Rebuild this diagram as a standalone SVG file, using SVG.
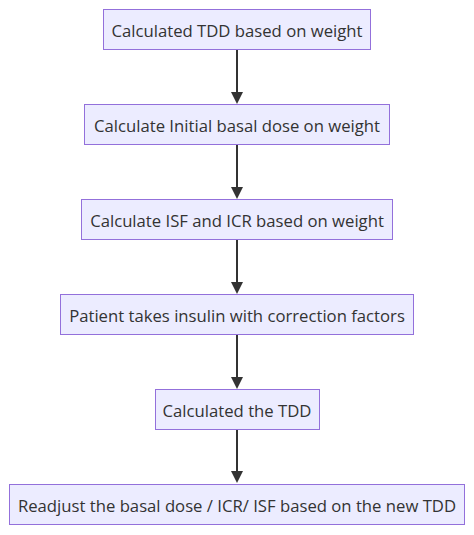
<svg xmlns="http://www.w3.org/2000/svg" width="474" height="535" viewBox="0 0 474 535">
<style>
.node rect{fill:#ECECFF;stroke:#9370DB;stroke-width:1}
.node text{font-family:"Open Sans","Noto Sans",sans-serif;font-size:16.7px;fill:#333;text-anchor:middle;dominant-baseline:central}
.edge{stroke:#333;stroke-width:2;fill:none}
.head{fill:#333}
</style>
<rect width="474" height="535" fill="#fff"/>
<g id="edges">
<line class="edge" x1="237" y1="49" x2="237" y2="96"/>
<path class="head" d="M231,92 L243,92 L237,104 z"/>
<line class="edge" x1="237" y1="144" x2="237" y2="191"/>
<path class="head" d="M231,187 L243,187 L237,199 z"/>
<line class="edge" x1="237" y1="239" x2="237" y2="286"/>
<path class="head" d="M231,282 L243,282 L237,294 z"/>
<line class="edge" x1="237" y1="334" x2="237" y2="381"/>
<path class="head" d="M231,377 L243,377 L237,389 z"/>
<line class="edge" x1="237" y1="429" x2="237" y2="475"/>
<path class="head" d="M231,471 L243,471 L237,483 z"/>
</g>
<g id="n1" class="node"><rect x="103.5" y="9.5" width="267" height="40"/><text x="237" y="30">Calculated TDD based on weight</text></g>
<g id="n2" class="node"><rect x="84.5" y="104.5" width="305" height="40"/><text x="237" y="125">Calculate Initial basal dose on weight</text></g>
<g id="n3" class="node"><rect x="81.5" y="199.5" width="311" height="40"/><text x="237" y="220">Calculate ISF and ICR based on weight</text></g>
<g id="n4" class="node"><rect x="60.5" y="294.5" width="353" height="40"/><text x="237" y="315">Patient takes insulin with correction factors</text></g>
<g id="n5" class="node"><rect x="155.5" y="389.5" width="164" height="40"/><text x="237" y="410">Calculated the TDD</text></g>
<g id="n6" class="node"><rect x="9.5" y="484.5" width="455" height="40"/><text x="237" y="505">Readjust the basal dose / ICR/ ISF based on the new TDD</text></g>
</svg>
